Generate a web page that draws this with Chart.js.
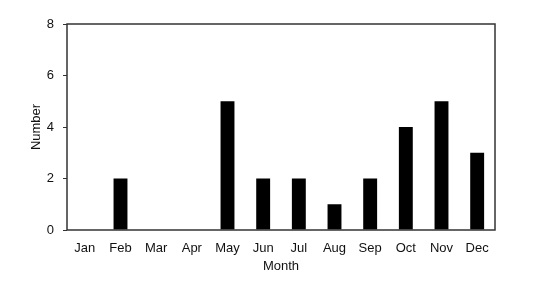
<!DOCTYPE html>
<html>
<head>
    <script src="https://cdn.jsdelivr.net/npm/chart.js@4/dist/chart.umd.min.js"></script>
    <style>
        html, body { margin: 0; padding: 0; background: #fff; }
        #wrap { width: 558px; height: 283px; }
    </style>
</head>
<body>
    <div id="wrap"><canvas id="chartCanvas"></canvas></div>
    <script>
        // data
        const months = ['Jan', 'Feb', 'Mar', 'Apr', 'May', 'Jun', 'Jul', 'Aug', 'Sep', 'Oct', 'Nov', 'Dec'];
        const counts = [0, 2, 0, 0, 5, 2, 2, 1, 2, 4, 5, 3];
        const yTicks = [0, 2, 4, 6, 8];

        const axisColor = '#333';
        const textColor = '#111';
        const font = { family: 'Liberation Sans, Arial, sans-serif', size: 13 };

        // box round the plot area
        const frame = {
            id: 'frame',
            afterDraw(chart) {
                const a = chart.chartArea;
                const c = chart.ctx;
                c.save();
                c.strokeStyle = axisColor;
                c.lineWidth = 1.5;
                c.strokeRect(a.left, a.top, a.right - a.left, a.bottom - a.top);
                c.restore();
            }
        };

        new Chart(document.getElementById('chartCanvas'), {
            type: 'bar',
            data: {
                labels: months,
                datasets: [{
                    data: counts,
                    backgroundColor: '#000',
                    borderWidth: 0,
                    categoryPercentage: 1,
                    barPercentage: 0.39
                }]
            },
            options: {
                responsive: true,
                maintainAspectRatio: false,
                animation: false,
                layout: { padding: { left: 29, right: 63, top: 24, bottom: 5 } },
                plugins: { legend: { display: false }, tooltip: { enabled: false } },
                scales: {
                    x: {
                        grid: { display: false },
                        border: { display: false },
                        ticks: { color: textColor, font: font, padding: 3, maxRotation: 0 },
                        title: { display: true, text: 'Month', color: textColor, font: font, padding: { top: 0 } },
                        afterFit(s) { s.height = 48; }
                    },
                    y: {
                        min: 0,
                        max: 8,
                        afterBuildTicks(s) { s.ticks = yTicks.map(v => ({ value: v })); },
                        grid: { drawOnChartArea: false, drawTicks: true, tickLength: 4, color: axisColor },
                        border: { display: false },
                        ticks: { color: textColor, font: font, padding: 9 },
                        title: { display: true, text: 'Number', color: textColor, font: font, padding: 0 },
                        afterFit(s) { s.width = 38; }
                    }
                }
            },
            plugins: [frame]
        });
    </script>
</body>
</html>
